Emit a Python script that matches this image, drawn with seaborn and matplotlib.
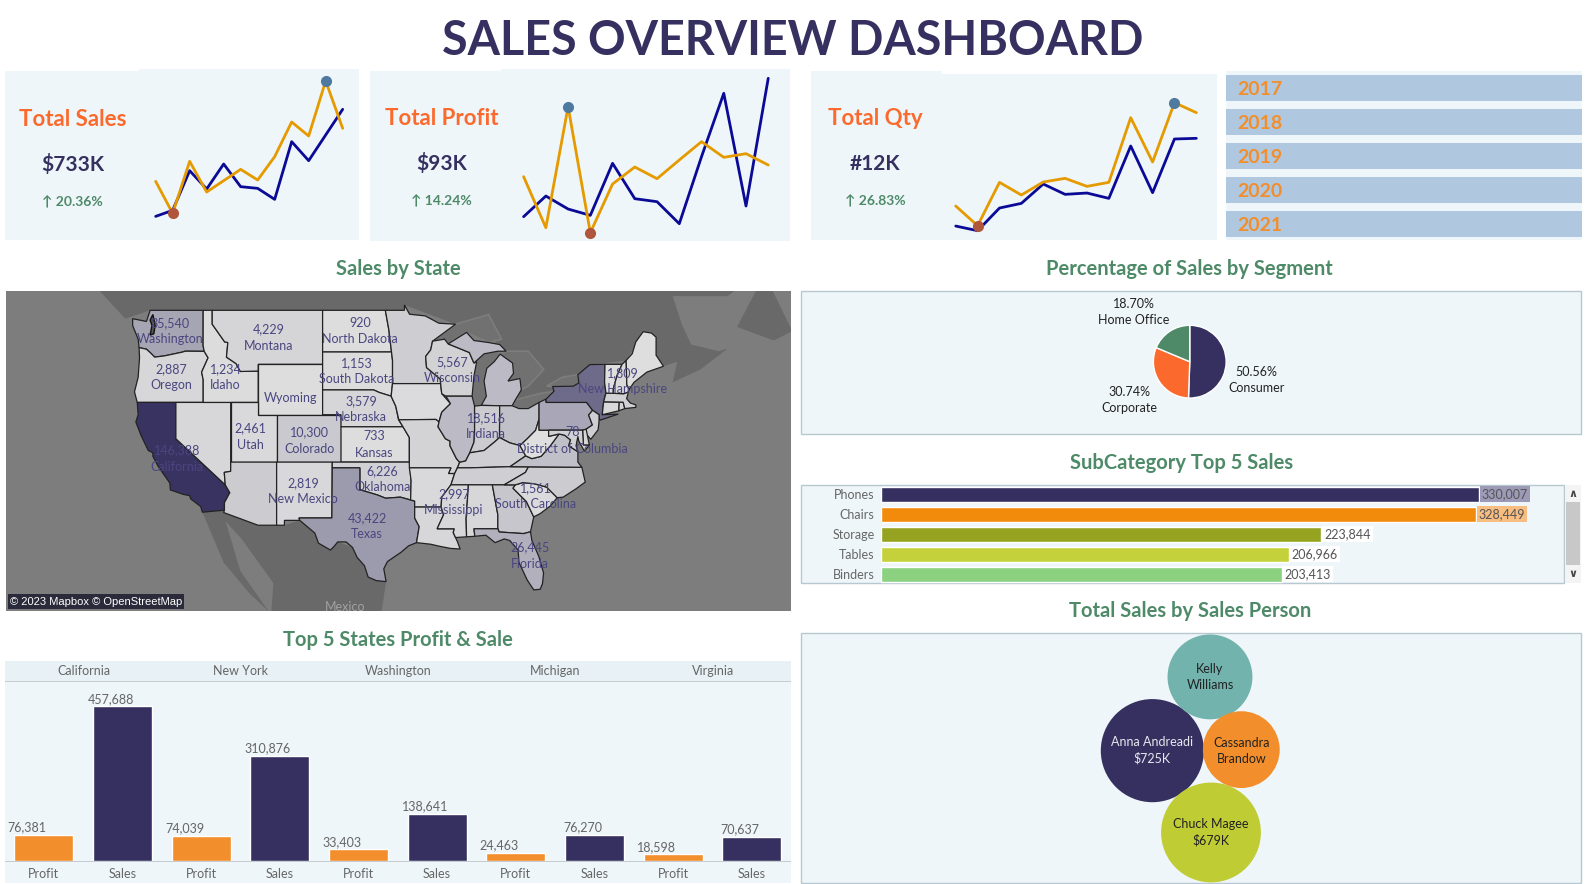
import matplotlib
matplotlib.use("Agg")
import matplotlib.pyplot as plt
from matplotlib.colors import PowerNorm
from matplotlib.patches import Polygon, Rectangle
import numpy as np
import pandas as pd
import seaborn as sns

sns.set_theme(style="white")
plt.rcParams["font.family"] = ["Lato", "DejaVu Sans"]

W, H = 1568, 875
PANEL = "#eef6fa"
NAVY = "#35305f"
ORANGE = "#f28e2b"
GREEN = "#4e8a68"
KPI_ORANGE = "#fb6a2c"
MAP_TEXT = "#4a4680"

# sparklines, monthly values
months = list(range(12))
sales_cur = [14.2, 17.8, 41.6, 30.6, 45.6, 32, 31, 24.4, 59, 47.6, 63, 78.4]
sales_prev = [35.2, 16, 47.2, 28.8, 35.6, 42.4, 36, 50, 70.8, 62.4, 95.4, 67]
profit_cur = [14, 26.4, 18.6, 14.8, 46, 24.8, 23, 9.8, 50, 88, 20.4, 97]
profit_prev = [38, 7.4, 80, 4.4, 33.6, 43.8, 36.8, 48, 59, 49.6, 51.8, 45]
qty_cur = [8.4, 5.6, 19.2, 22, 33.6, 27.4, 28.2, 25, 56.4, 28.4, 60.6, 61]
qty_prev = [20.4, 8.6, 34.6, 27, 34.8, 37, 32.2, 34.6, 73.4, 46.8, 82.4, 76.4]

years = ["2017", "2018", "2019", "2020", "2021"]

segments = ["Consumer", "Corporate", "Home Office"]
segment_share = [50.56, 30.74, 18.70]

subcats = ["Phones", "Chairs", "Storage", "Tables", "Binders"]
subcat_sales = [330007, 328449, 223844, 206966, 203413]
# the drawn bars run longer than their labels for the last three, so lengths are read separately
subcat_bar_len = [330007, 328449, 242900, 225000, 221000]

top_states = ["California", "New York", "Washington", "Michigan", "Virginia"]
top_profit = [76381, 74039, 33403, 24463, 18598]
top_sales = [457688, 310876, 138641, 76270, 70637]

people = ["Anna Andreadi", "Chuck Magee", "Kelly Williams", "Cassandra Brandow"]
people_sales = [725, 679, 491, 402]

# map: sales by state, the ones without a label are estimated from their shade
state_values = {
    "WA": 35540, "OR": 2887, "CA": 146388, "NV": 3000, "ID": 1234, "MT": 4229, "WY": 800,
    "UT": 2461, "CO": 10300, "AZ": 9000, "NM": 2819, "ND": 920, "SD": 1153, "NE": 3579,
    "KS": 733, "OK": 6226, "TX": 43422, "MN": 8000, "IA": 1500, "MO": 5000, "AR": 2000,
    "LA": 3000, "WI": 5567, "IL": 18516, "MI": 19000, "IN": 9000, "OH": 16000, "KY": 7000,
    "TN": 7000, "MS": 2997, "AL": 3000, "GA": 12000, "FL": 26445, "SC": 1561, "NC": 9000,
    "VA": 16000, "WV": 200, "PA": 33000, "NY": 87000, "NJ": 7000, "DE": 4000, "MD": 6000,
    "CT": 2000, "RI": 4000, "MA": 6000, "VT": 300, "NH": 1809, "ME": 400,
}

state_labels = [
    ("35,540", "Washington", 168, 320), ("2,887", "Oregon", 169, 365),
    ("4,229", "Montana", 266, 326), ("920", "North Dakota", 356, 320),
    ("1,234", "Idaho", 223, 365), ("1,153", "South Dakota", 353, 359),
    ("", "Wyoming", 287, 378), ("5,567", "Wisconsin", 447, 358),
    ("3,579", "Nebraska", 357, 397), ("2,461", "Utah", 248, 424),
    ("10,300", "Colorado", 306, 428), ("733", "Kansas", 370, 432),
    ("146,388", "California", 175, 446), ("2,819", "New Mexico", 300, 478),
    ("6,226", "Oklahoma", 378, 466), ("43,422", "Texas", 363, 513),
    ("2,997", "Mississippi", 449, 489), ("1,561", "South Carolina", 530, 483),
    ("26,445", "Florida", 524, 542), ("18,516", "Indiana", 481, 414),
    ("1,809", "New Hampshire", 616, 369), ("78", "District of Columbia", 566, 428),
]

# simplified outlines, (lon, lat)
state_shapes = {
    "WA": [(-124.7, 48.4), (-123.2, 48.2), (-122.8, 49), (-117.03, 49), (-117.04, 46.42), (-116.92, 45.99), (-118.98, 46), (-119.3, 45.93), (-121.2, 45.65), (-122.3, 45.55), (-122.8, 45.9), (-123.2, 46.15), (-124, 46.27), (-124.1, 46.9), (-124.7, 47.9)],
    "OR": [(-124, 46.27), (-123.2, 46.15), (-122.8, 45.9), (-122.3, 45.55), (-121.2, 45.65), (-119.3, 45.93), (-118.98, 46), (-116.92, 45.99), (-116.5, 45.5), (-117.2, 44.4), (-117.03, 43.8), (-117.03, 42), (-124.2, 42), (-124.5, 42.85), (-124.1, 44), (-123.95, 45.5)],
    "CA": [(-124.2, 42), (-120, 42), (-120, 39), (-114.63, 35), (-114.14, 34.3), (-114.72, 33.4), (-114.72, 32.72), (-117.12, 32.53), (-117.3, 33.05), (-118.4, 33.75), (-118.5, 34.03), (-119.2, 34.15), (-120.6, 34.55), (-120.65, 35.15), (-121.9, 36.6), (-122.5, 37.5), (-122.5, 37.8), (-123, 38), (-123.8, 39.3), (-124.35, 40.4), (-124.1, 41)],
    "NV": [(-120, 42), (-114.04, 42), (-114.04, 36.2), (-114.74, 36.1), (-114.63, 35), (-120, 39)],
    "ID": [(-117.03, 49), (-116.05, 49), (-116.05, 48), (-114.7, 46.7), (-114.35, 46.65), (-114.5, 45.55), (-113.45, 45.05), (-113, 44.45), (-111.05, 44.48), (-111.05, 42), (-117.03, 42), (-117.03, 43.8), (-117.2, 44.4), (-116.5, 45.5), (-116.92, 45.99), (-117.04, 46.42)],
    "MT": [(-116.05, 49), (-104.05, 49), (-104.05, 45), (-111.05, 45), (-111.05, 44.48), (-113, 44.45), (-113.45, 45.05), (-114.5, 45.55), (-114.35, 46.65), (-114.7, 46.7), (-116.05, 48)],
    "WY": [(-111.05, 45), (-104.05, 45), (-104.05, 41), (-111.05, 41)],
    "UT": [(-114.04, 42), (-111.05, 42), (-111.05, 41), (-109.05, 41), (-109.05, 37), (-114.04, 37)],
    "CO": [(-109.05, 41), (-102.05, 41), (-102.05, 37), (-109.05, 37)],
    "AZ": [(-114.04, 37), (-109.05, 37), (-109.05, 31.33), (-111.07, 31.33), (-114.81, 32.5), (-114.72, 32.72), (-114.72, 33.4), (-114.14, 34.3), (-114.63, 35), (-114.74, 36.1), (-114.04, 36.2)],
    "NM": [(-109.05, 37), (-103, 37), (-103.04, 32), (-106.62, 32), (-106.53, 31.78), (-108.2, 31.78), (-108.2, 31.33), (-109.05, 31.33)],
    "ND": [(-104.05, 49), (-97.23, 49), (-96.85, 47.6), (-96.56, 45.94), (-104.05, 45.94)],
    "SD": [(-104.05, 45.94), (-96.56, 45.94), (-96.45, 45.3), (-96.45, 43.5), (-96.6, 42.5), (-97.9, 42.8), (-98.5, 43), (-104.05, 43)],
    "NE": [(-104.05, 43), (-98.5, 43), (-97.9, 42.8), (-96.6, 42.5), (-96.1, 41.7), (-95.8, 40.6), (-95.31, 40), (-102.05, 40), (-102.05, 41), (-104.05, 41)],
    "KS": [(-102.05, 40), (-95.31, 40), (-94.62, 39.1), (-94.62, 37), (-102.05, 37)],
    "OK": [(-103, 37), (-94.62, 37), (-94.43, 35.4), (-94.48, 33.64), (-95.6, 33.9), (-97.2, 33.8), (-98.1, 34.1), (-100, 34.56), (-100, 36.5), (-103, 36.5)],
    "TX": [(-103, 36.5), (-100, 36.5), (-100, 34.56), (-98.1, 34.1), (-97.2, 33.8), (-95.6, 33.9), (-94.48, 33.64), (-94.04, 33.55), (-94.04, 32), (-93.55, 31.2), (-93.84, 29.7), (-94.7, 29.4), (-95.5, 28.8), (-97, 27.9), (-97.4, 27.2), (-97.15, 25.96), (-98.2, 26.05), (-99.1, 26.4), (-99.5, 27.5), (-100.3, 28.3), (-100.8, 29.25), (-101.5, 29.77), (-102.4, 29.77), (-102.85, 29.3), (-103.2, 29), (-104.5, 29.65), (-104.9, 30.6), (-106.53, 31.78), (-106.62, 32), (-103.04, 32)],
    "MN": [(-97.23, 49), (-95.15, 49), (-95.15, 49.38), (-94.6, 48.72), (-92.9, 48.6), (-91.4, 48.07), (-89.6, 48), (-92.1, 46.75), (-92.3, 46.1), (-92.85, 45.6), (-92.75, 44.75), (-91.25, 43.85), (-91.22, 43.5), (-96.45, 43.5), (-96.45, 45.3), (-96.56, 45.94), (-96.85, 47.6)],
    "IA": [(-96.45, 43.5), (-91.22, 43.5), (-91.1, 42.7), (-90.15, 41.9), (-91.1, 41.2), (-91.4, 40.4), (-91.73, 40.61), (-95.77, 40.58), (-96.1, 41.7), (-96.6, 42.5)],
    "MO": [(-95.77, 40.58), (-91.73, 40.61), (-91.4, 40.4), (-91.5, 40), (-90.7, 39), (-90.2, 38.8), (-90.2, 38.4), (-89.5, 37.3), (-89.15, 36.98), (-89.4, 36.5), (-89.7, 36), (-90.37, 36), (-90.1, 36.5), (-94.62, 36.5), (-94.62, 39.1), (-95.31, 40)],
    "AR": [(-94.62, 36.5), (-90.1, 36.5), (-90.37, 36), (-89.7, 36), (-90.1, 35), (-91.1, 33.9), (-91.17, 33), (-94.04, 33), (-94.04, 33.55), (-94.48, 33.64), (-94.43, 35.4)],
    "LA": [(-94.04, 33), (-91.17, 33), (-90.9, 32.3), (-91.6, 31), (-89.73, 31), (-89.85, 30.65), (-89.6, 30.18), (-89.4, 29.8), (-89.1, 29.1), (-90.1, 29.15), (-91.3, 29.35), (-92.3, 29.55), (-93.84, 29.7), (-93.55, 31.2), (-94.04, 32)],
    "WI": [(-92.1, 46.75), (-90.8, 46.9), (-90.4, 46.55), (-88.1, 45.9), (-87.6, 45.1), (-87.3, 45.2), (-87.6, 44.1), (-87.8, 42.5), (-90.64, 42.5), (-91.1, 42.7), (-91.22, 43.5), (-91.25, 43.85), (-92.75, 44.75), (-92.85, 45.6), (-92.3, 46.1)],
    "IL": [(-90.64, 42.5), (-87.8, 42.5), (-87.53, 41.7), (-87.53, 39.35), (-87.6, 38.7), (-88.05, 37.8), (-88.5, 37.1), (-89.15, 36.98), (-89.5, 37.3), (-90.2, 38.4), (-90.2, 38.8), (-90.7, 39), (-91.5, 40), (-91.4, 40.4), (-91.1, 41.2), (-90.15, 41.9)],
    "MI": [(-86.8, 41.76), (-84.8, 41.73), (-83.45, 41.73), (-83.1, 42.2), (-82.45, 43), (-82.6, 43.9), (-83.9, 43.7), (-83.3, 44.3), (-83.4, 45.1), (-84.75, 45.78), (-85.4, 45.2), (-86.2, 44.7), (-86.5, 43.7), (-86.25, 42.5)],
    "MI2": [(-90.4, 46.55), (-88.4, 47.4), (-87.6, 46.8), (-86, 46.65), (-84.8, 46.5), (-84.1, 46), (-85, 46), (-86.5, 45.8), (-87.6, 45.1), (-88.1, 45.9)],
    "IN": [(-87.53, 41.7), (-86.8, 41.76), (-84.8, 41.73), (-84.82, 39.1), (-85.4, 38.7), (-86.5, 38), (-88.05, 37.8), (-87.6, 38.7), (-87.53, 39.35)],
    "OH": [(-84.8, 41.73), (-83.45, 41.73), (-82.7, 41.5), (-81.7, 41.5), (-80.52, 42), (-80.52, 40.64), (-80.9, 39.7), (-81.8, 39), (-82.6, 38.42), (-83.7, 38.65), (-84.82, 39.1)],
    "KY": [(-89.4, 36.5), (-89.15, 36.98), (-88.5, 37.1), (-88.05, 37.8), (-86.5, 38), (-85.4, 38.7), (-84.82, 39.1), (-83.7, 38.65), (-82.6, 38.42), (-81.97, 37.54), (-83.68, 36.6), (-88.05, 36.5)],
    "TN": [(-89.4, 36.5), (-88.05, 36.5), (-83.68, 36.6), (-81.68, 36.59), (-82, 36.1), (-84.32, 35), (-90.1, 35), (-89.7, 36)],
    "MS": [(-90.1, 35), (-88.2, 35), (-88.45, 31.9), (-88.4, 30.25), (-89.6, 30.18), (-89.85, 30.65), (-89.73, 31), (-91.6, 31), (-90.9, 32.3), (-91.17, 33), (-91.1, 33.9)],
    "AL": [(-88.2, 35), (-85.6, 35), (-85, 32.3), (-85, 31), (-87.6, 31), (-87.5, 30.3), (-88.4, 30.25), (-88.45, 31.9)],
    "GA": [(-85.6, 35), (-83.1, 35), (-83.35, 34.7), (-81.9, 33.5), (-81.1, 32.1), (-81.45, 30.72), (-82.2, 30.55), (-84.86, 30.7), (-85, 31), (-85, 32.3)],
    "FL": [(-87.6, 31), (-85, 31), (-84.86, 30.7), (-82.2, 30.55), (-81.45, 30.72), (-81.3, 29.9), (-80.55, 28.4), (-80.03, 26.8), (-80.15, 25.75), (-80.4, 25.2), (-81.1, 25.15), (-81.8, 26.1), (-82.7, 27.8), (-82.8, 29), (-83.7, 29.9), (-84.3, 30.05), (-85.3, 29.7), (-86.3, 30.4), (-87.5, 30.3)],
    "SC": [(-83.1, 35), (-82.3, 35.2), (-81.05, 35.1), (-79.7, 34.8), (-78.55, 33.85), (-79.3, 33.1), (-80.4, 32.4), (-81.1, 32.1), (-81.9, 33.5), (-83.35, 34.7)],
    "NC": [(-84.32, 35), (-82, 36.1), (-81.68, 36.59), (-75.87, 36.55), (-75.5, 35.25), (-76.5, 34.65), (-77.9, 33.9), (-78.55, 33.85), (-79.7, 34.8), (-81.05, 35.1), (-82.3, 35.2), (-83.1, 35)],
    "VA": [(-83.68, 36.6), (-81.97, 37.54), (-81.3, 37.3), (-80.3, 37.5), (-79.3, 38.4), (-78.35, 39.4), (-77.75, 39.3), (-77.1, 38.9), (-77.3, 38.4), (-76.3, 37.9), (-76.3, 37), (-75.87, 36.55), (-81.68, 36.59)],
    "WV": [(-82.6, 38.42), (-81.8, 39), (-80.9, 39.7), (-80.52, 40.64), (-80.52, 39.72), (-79.48, 39.72), (-79.48, 39.2), (-78.35, 39.4), (-79.3, 38.4), (-80.3, 37.5), (-81.3, 37.3), (-81.97, 37.54)],
    "PA": [(-80.52, 42), (-79.76, 42.27), (-79.76, 42), (-75.35, 42), (-74.7, 41.36), (-75.13, 40.97), (-74.72, 40.15), (-75.4, 39.8), (-75.79, 39.72), (-80.52, 39.72)],
    "NY": [(-79.76, 42.27), (-78.9, 42.9), (-79.05, 43.27), (-76.8, 43.3), (-76.2, 43.55), (-76.3, 44.2), (-75, 44.98), (-73.35, 45), (-73.4, 43.6), (-73.25, 42.75), (-73.5, 42.05), (-73.65, 41), (-71.9, 41.05), (-73.9, 40.55), (-74, 40.72), (-74, 41), (-74.7, 41.36), (-75.35, 42), (-79.76, 42)],
    "NJ": [(-74.7, 41.36), (-74, 41), (-74, 40.45), (-74.1, 39.75), (-74.9, 38.95), (-75.5, 39.5), (-75.4, 39.8), (-74.72, 40.15), (-75.13, 40.97)],
    "DE": [(-75.79, 39.72), (-75.4, 39.8), (-75.05, 38.45), (-75.7, 38.46)],
    "MD": [(-79.48, 39.72), (-75.79, 39.72), (-75.7, 38.46), (-75.05, 38.45), (-75.6, 37.95), (-76.2, 38.8), (-76.3, 39.2), (-76.5, 38.4), (-76.3, 37.9), (-77.3, 38.4), (-77.1, 38.9), (-77.75, 39.3), (-78.35, 39.4), (-79.48, 39.2)],
    "CT": [(-73.5, 42.05), (-71.8, 42.02), (-71.85, 41.32), (-73.65, 41)],
    "RI": [(-71.8, 42.02), (-71.38, 42.02), (-71.2, 41.5), (-71.85, 41.32)],
    "MA": [(-73.25, 42.75), (-71.3, 42.7), (-70.8, 42.85), (-71, 42.3), (-70.6, 41.95), (-70, 41.8), (-70, 41.6), (-71.2, 41.5), (-71.38, 42.02), (-73.5, 42.05)],
    "VT": [(-73.35, 45), (-71.5, 45), (-72.05, 44.1), (-72.45, 43.1), (-72.45, 42.73), (-73.25, 42.75), (-73.4, 43.6)],
    "NH": [(-71.5, 45), (-71.05, 45.3), (-70.98, 43.4), (-70.7, 43.07), (-70.8, 42.85), (-71.3, 42.7), (-72.45, 42.73), (-72.45, 43.1), (-72.05, 44.1)],
    "ME": [(-71.05, 45.3), (-70.4, 45.8), (-70, 46.7), (-69.2, 47.45), (-68.3, 47.35), (-67.8, 47.05), (-67.8, 45.7), (-67, 44.85), (-68.8, 44.4), (-70.2, 43.6), (-70.7, 43.07), (-70.98, 43.4)],
}
canada = [(-140, 60), (-50, 60), (-56, 52), (-60, 50), (-66, 50), (-65, 48), (-64, 46.5), (-61, 46), (-60, 46.2), (-63, 44.6), (-66, 43.6), (-65.5, 45.2), (-67, 44.85), (-67.8, 45.7), (-67.8, 47.05), (-69.2, 47.45), (-71.05, 45.3), (-75, 44.98), (-79, 42.8), (-83, 42), (-82.45, 43), (-84.75, 46.5), (-89.6, 48), (-95.15, 49.38), (-95.15, 49), (-122.8, 49), (-125.5, 48.4), (-128.5, 50.5), (-131, 54), (-135, 58), (-140, 60)]
newfoundland = [(-59, 47.8), (-56, 51.5), (-53, 47.5), (-55, 46.8)]
mexico = [(-117.12, 32.53), (-114.72, 32.72), (-114.81, 32.5), (-111.07, 31.33), (-108.2, 31.33), (-106.53, 31.78), (-104.9, 30.6), (-103.2, 29), (-102.4, 29.77), (-100.8, 29.25), (-99.5, 27.5), (-97.15, 25.96), (-97.8, 22), (-95, 18), (-110, 18), (-109.4, 25.8), (-112.8, 30), (-114.6, 31.7), (-113, 27), (-109.9, 23), (-112, 24.8), (-114.8, 27.8)]
lakes = [
    [(-92.1, 46.75), (-89.6, 48), (-86, 48.7), (-84.6, 46.9), (-86, 46.65), (-88.4, 47.4), (-90.4, 46.6)],
    [(-87.6, 45.1), (-86.5, 45.8), (-85, 46), (-84.75, 45.78), (-85.4, 45.2), (-86.2, 44.7), (-86.5, 43.7), (-86.25, 42.5), (-86.8, 41.76), (-87.53, 41.7), (-87.8, 42.5), (-87.6, 44.1)],
    [(-84.1, 46), (-81.7, 46), (-80, 44.6), (-81.7, 43.3), (-82.45, 43), (-82.6, 43.9), (-83.9, 43.7), (-83.3, 44.3), (-83.4, 45.1), (-84.75, 45.78)],
    [(-83.45, 41.73), (-83.1, 42.2), (-80.5, 42.7), (-78.9, 42.9), (-79.76, 42.27), (-81.7, 41.5), (-82.7, 41.5)],
    [(-79.05, 43.27), (-79.7, 43.3), (-78, 44), (-76.3, 44.2), (-76.2, 43.55), (-76.8, 43.3)],
]
puget = [(-122.5, 48.7), (-122.25, 47.9), (-122.4, 47.3), (-122.8, 47.2), (-122.6, 47.9), (-122.8, 48.3)]


def merc(lat):
    return np.log(np.tan(np.pi / 4 + np.radians(lat) / 2))


def merc_inv(y):
    return np.degrees(2 * np.arctan(np.exp(y))) - 90


fig = plt.figure(figsize=(15.85, 8.84), dpi=100, facecolor="white")


def axes_px(left, top, right, bottom):
    ax = fig.add_axes([left / W, 1 - bottom / H, (right - left) / W, (bottom - top) / H])
    ax.patch.set_alpha(0)
    return ax


def rect(left, top, right, bottom, color=PANEL, edge="none", z=-1):
    fig.add_artist(Rectangle((left / W, 1 - bottom / H), (right - left) / W, (bottom - top) / H,
                             transform=fig.transFigure, fc=color, ec=edge, lw=1, zorder=z))


def label(x, y, s, size=9, color="#444444", weight="normal", ha="center", **kw):
    fig.text(x / W, 1 - y / H, s, fontsize=size, color=color, fontweight=weight,
             ha=ha, va="center", linespacing=1.4, **kw)


def sparkline(box, cur, prev):
    ax = axes_px(*box)
    df = pd.DataFrame({"month": months, "cur": cur, "prev": prev})
    sns.lineplot(data=df, x="month", y="cur", color="#0a0a96", lw=2, ax=ax, clip_on=False)
    sns.lineplot(data=df, x="month", y="prev", color="#e59a00", lw=2, ax=ax, clip_on=False)
    hi, lo = int(np.argmax(prev)), int(np.argmin(prev))
    ax.plot(months[hi], prev[hi], "o", ms=7, color="#4f7a9f", clip_on=False)
    ax.plot(months[lo], prev[lo], "o", ms=7, color="#b0563a", clip_on=False)
    ax.set_xlim(0, 11)
    ax.set_ylim(0, 103)
    ax.set_axis_off()


# title and KPI row
label(784, 41, "SALES OVERVIEW DASHBOARD", size=33.6, color=NAVY, weight="bold")

rect(5, 70, 355, 238)
rect(138, 68, 355, 70)
rect(366, 70, 782, 239)
rect(496, 68, 782, 70)
rect(802, 70, 932, 238)
rect(932, 73, 1204, 238)
rect(1213, 70, 1565, 238)

kpis = [("Total Sales", "$733K", "20.36%", 72, 118), ("Total Profit", "$93K", "14.24%", 437, 117),
        ("Total Qty", "#12K", "26.83%", 866, 117)]
for name, total, change, x, y in kpis:
    label(x, y, name, size=16, color=KPI_ORANGE, weight="bold")
    label(x, y + 45, total, size=15, color=NAVY, weight="bold")
    label(x, y + 82.5, "\u2191 " + change, size=10, color=GREEN, weight="bold")

sparkline((154, 67.6, 339, 237.6), sales_cur, sales_prev)
sparkline((518, 67.6, 760, 237.6), profit_cur, profit_prev)
sparkline((945.5, 67.6, 1183.5, 237.6), qty_cur, qty_prev)

for i, year in enumerate(years):
    top = 74.2 + i * 33.7
    rect(1213, top, 1565, top + 26, color="#afc8e0", z=-0.5)
    label(1224, top + 14.5, year, size=14, color=ORANGE, weight="bold", ha="left")

# section titles
for x, y, s in [(394, 266, "Sales by State"), (1177, 266, "Percentage of Sales by Segment"),
                (1169, 458, "SubCategory Top 5 Sales"), (1177, 605, "Total Sales by Sales Person"),
                (394, 633, "Top 5 States Profit & Sale")]:
    label(x, y, s, size=14.5, color=GREEN, weight="bold")

# map
ax_map = axes_px(6, 288, 783, 605)
ax_map.patch.set_alpha(1)
ax_map.set_facecolor("#7d7d7d")
ax_map.set_yscale("function", functions=(merc, merc_inv))
land = "#696969"
ax_map.add_patch(Polygon(canada, fc=land, ec="none"))
ax_map.add_patch(Polygon(newfoundland, fc=land, ec="none"))
ax_map.add_patch(Polygon(mexico, fc=land, ec="none"))
for lake in lakes:
    ax_map.add_patch(Polygon(lake, fc="#717171", ec="#7d7d7d", lw=1.2))
state_cmap = sns.blend_palette(["#e0e0e0", NAVY], as_cmap=True)
state_norm = PowerNorm(0.75, vmin=0, vmax=150000)
for code, shape in state_shapes.items():
    value = state_values[code.rstrip("2")]
    ax_map.add_patch(Polygon(shape, fc=state_cmap(state_norm(value)), ec="#222222", lw=0.9))
ax_map.add_patch(Polygon(puget, fc="#555555", ec="#111111", lw=1))
ax_map.set_xlim(-138.46, -53.08)
ax_map.set_ylim(23.03, 50.36)
ax_map.tick_params(which="both", length=0, labelleft=False, labelbottom=False)
ax_map.minorticks_off()
sns.despine(ax=ax_map, left=True, bottom=True)

label(341, 601, "Mexico", size=9, color="#a0a0a0")
rect(8, 588, 182, 603, color="#2a2a3a", z=2)
label(95, 596, "\u00a9 2023 Mapbox \u00a9 OpenStreetMap", size=8, color="white", zorder=4,
      family="Liberation Sans")
for value, name, x, y in state_labels:
    if value:
        label(x, y, value, size=9, color=MAP_TEXT)
    label(x, y + 16, name, size=9, color=MAP_TEXT)

# segment pie
rect(792, 288, 1564, 430, edge="#b8c8d0")
ax_pie = axes_px(1141, 322, 1213, 394)
ax_pie.pie(segment_share, colors=[NAVY, "#fb6a2c", GREEN], startangle=90, counterclock=False, radius=1)
ax_pie.set_xlim(-1, 1)
ax_pie.set_ylim(-1, 1)
label(1122, 309, "18.70%\nHome Office", size=9, color="#222222")
label(1243, 376, "50.56%\nConsumer", size=9, color="#222222")
label(1117, 396, "30.74%\nCorporate", size=9, color="#222222")

# top sub-categories
rect(792, 480, 1547, 577, edge="#b8c8d0")
rect(1548, 480, 1564, 577, color="#f4f4f4")
rect(1549, 497, 1563, 559, color="#c8c8c8")
label(1556, 488, "\u2227", size=8, color="#444444", weight="bold")
label(1556, 568, "\u2228", size=8, color="#444444", weight="bold")
ax_bar = axes_px(872, 480, 1547, 578)
sub_df = pd.DataFrame({"sub": subcats, "length": subcat_bar_len})
bar_colors = ["#35305f", "#f28a0c", "#96a320", "#c4d13a", "#8bd180"]
label_backs = ["#9d9ab8", "#f8bd80", "white", "white", "white"]
sns.barplot(data=sub_df, y="sub", x="length", hue="sub", palette=bar_colors, legend=False,
            width=0.76, ax=ax_bar, saturation=1)
for container, back, value in zip(ax_bar.containers, label_backs, subcat_sales):
    ax_bar.bar_label(container, labels=[f"{value:,}"], padding=2, fontsize=9, color="#555555",
                     bbox=dict(fc=back, ec="none", pad=1.5))
ax_bar.set_xlim(0, 376900)
ax_bar.set_ylim(4.48, -0.47)
ax_bar.set_xticks([])
ax_bar.set_xlabel("")
ax_bar.set_ylabel("")
ax_bar.tick_params(axis="y", length=0, labelsize=9, labelcolor="#666666", pad=5)
sns.despine(ax=ax_bar, left=True, bottom=True)

# salesperson bubbles, placement inside the panel follows the picture
rect(792, 627, 1564, 874, edge="#b8c8d0")
ax_bub = axes_px(792, 627, 1564, 874)
bubble_x = [1140, 1198, 1197, 1228]
bubble_y = [743, 824, 670, 742]
bub_df = pd.DataFrame({"person": people, "sales": people_sales, "bx": bubble_x, "by": bubble_y})
bub_colors = dict(zip(people, [NAVY, "#c0cc33", "#72b3ad", ORANGE]))
# area follows sales: r^2 px = 3.59 * sales, s is in pt^2
px_pt = 0.72 * 1585 / 1568
bub_sizes = {p: (2 * np.sqrt(3.59 * v) * px_pt) ** 2 for p, v in zip(people, people_sales)}
sns.scatterplot(data=bub_df, x="bx", y="by", hue="person", palette=bub_colors, size="person",
                sizes=bub_sizes, linewidth=0, alpha=1, legend=False, ax=ax_bub, clip_on=False)
ax_bub.set_xlim(792, 1564)
ax_bub.set_ylim(874, 627)
ax_bub.set_axis_off()
label(1197, 670, "Kelly\nWilliams", size=9, color="#222222", zorder=5)
label(1228, 743, "Cassandra\nBrandow", size=9, color="#222222", zorder=5)
label(1140, 743, "Anna Andreadi\n$725K", size=9, color="#e8e8f0", zorder=5)
label(1198, 824, "Chuck Magee\n$679K", size=9, color="#222222", zorder=5)

# top states
rect(5, 654, 783, 874)
rect(5, 654, 783, 675, color="#e8f1f5", z=-0.5)
rect(5, 674.5, 783, 675.5, color="#c4ccd0", z=-0.4)
rect(5, 852, 783, 853, color="#c4ccd0", z=-0.4)
ax_top = axes_px(4.5, 675, 782.5, 852)
rows = []
for state, p, s in zip(top_states, top_profit, top_sales):
    rows.append({"key": state + " Profit", "measure": "Profit", "value": p})
    rows.append({"key": state + " Sales", "measure": "Sales", "value": s})
top_df = pd.DataFrame(rows)
sns.barplot(data=top_df, x="key", y="value", hue="measure", dodge=False, width=0.75, legend=False,
            palette={"Profit": ORANGE, "Sales": NAVY}, saturation=1, ax=ax_top)
# the value labels sit left of the bar centres in the reference
label_shift = {"Profit": -12, "Sales": -8.5}
for container, measure in zip(ax_top.containers, ["Profit", "Sales"]):
    for bar in container:
        if bar.get_height() > 0:
            ax_top.annotate(f"{bar.get_height():,.0f}", (bar.get_x() + bar.get_width() / 2, bar.get_height()),
                            xytext=(label_shift[measure], 1), textcoords="offset points",
                            ha="center", va="bottom", fontsize=9, color="#666666")
ax_top.set_ylim(0, 530000)
ax_top.set_xlim(-0.5, 9.5)
ax_top.set_xticks(range(10), labels=top_df["measure"])
ax_top.set_yticks([])
ax_top.set_xlabel("")
ax_top.set_ylabel("")
ax_top.tick_params(axis="x", length=0, labelsize=9, labelcolor="#666666", pad=5)
sns.despine(ax=ax_top, left=True, bottom=True)
for i, state in enumerate(top_states):
    label(5 + 155.6 * (i + 0.5), 664.5, state, size=9, color="#666666")

fig.savefig("out.png", dpi=100)
